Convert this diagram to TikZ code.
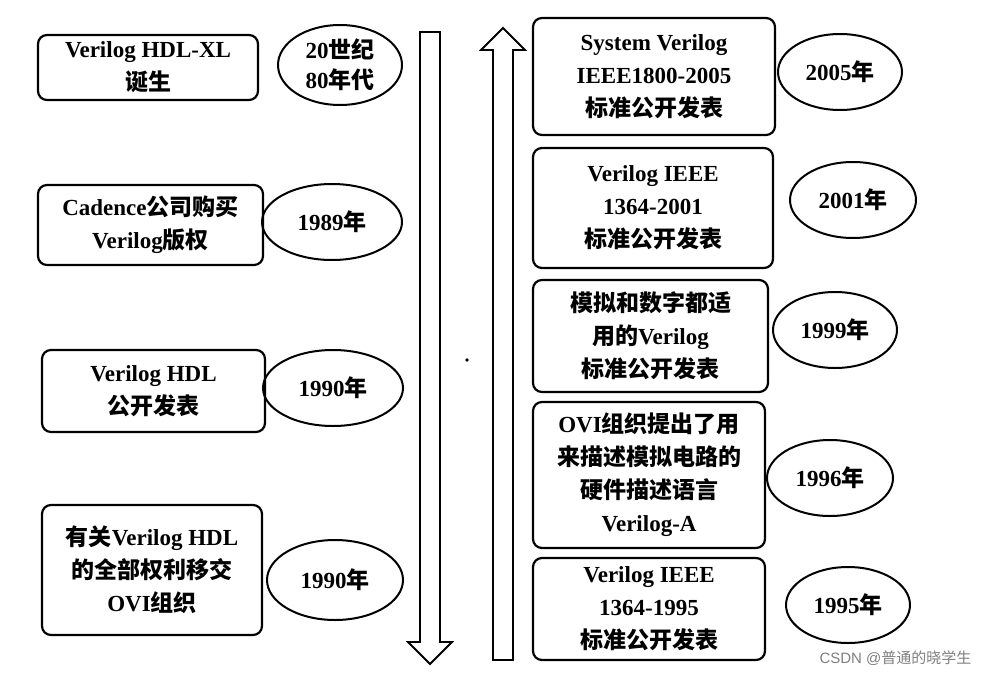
\documentclass[tikz,border=0pt]{standalone}
\usepackage{fontspec}
\setmainfont{Liberation Serif}
\newfontfamily\cjk{Noto Sans CJK SC}
\newfontfamily\wmfont{Liberation Sans}
\newcommand{\zh}[1]{{\cjk #1}}
\begin{document}
\begin{tikzpicture}[x=1pt,y=-1pt,
  box/.style={align=center,font=\fontsize{23}{33}\selectfont\bfseries},
  yr/.style={align=center,font=\fontsize{23}{30}\selectfont\bfseries},
  arr/.style={draw,line width=1.8pt,fill=white,line join=miter}]
\useasboundingbox (0,0) rectangle (990,677);
\fill[white] (0,0) rectangle (990,677);
\def\bx#1#2#3#4#5#6{\draw[line width=2.2pt,rounded corners=9pt] (#2,#3) rectangle (#4,#5); \node[box] (#1) at ({(#2+#4)/2},{(#3+#5)/2}) {#6};}
\def\el#1#2#3#4#5#6{\draw[line width=2pt] (#2,#3) ellipse ({#4pt} and {#5pt}); \node[yr] (#1) at (#2,#3) {#6};}
% left
\bx{l1}{38}{35}{258}{100}{Verilog HDL-XL\\\zh{诞生}}
\el{e1}{340}{65}{62}{40}{20\zh{世纪}\\80\zh{年代}}
\bx{l2}{38}{185}{263}{265}{Cadence\zh{公司购买}\\Verilog\zh{版权}}
\el{e2}{332}{222}{70}{38}{1989\zh{年}}
\bx{l3}{42}{350}{265}{432}{Verilog HDL\\\zh{公开发表}}
\el{e3}{333}{388}{70}{38}{1990\zh{年}}
\bx{l4}{42}{505}{262}{635}{\zh{有关}Verilog HDL\\\zh{的全部权利移交}\\OVI\zh{组织}}
\el{e4}{335}{580}{68}{40}{1990\zh{年}}
% arrows
\draw[arr] (420,32) -- (440,32) -- (440,642) -- (452,642) -- (430,664) -- (408,642) -- (420,642) -- cycle;
\draw[arr] (493,660) -- (513,660) -- (513,50) -- (525,50) -- (503,28) -- (481,50) -- (493,50) -- cycle;
\fill (467,360) circle (1.8);
% right
\bx{r1}{533}{18}{775}{135}{System Verilog\\IEEE1800-2005\\\zh{标准公开发表}}
\el{f1}{840}{72}{62}{38}{2005\zh{年}}
\bx{r2}{533}{148}{773}{268}{Verilog IEEE\\1364-2001\\\zh{标准公开发表}}
\el{f2}{853}{200}{63}{38}{2001\zh{年}}
\bx{r3}{533}{280}{768}{392}{\zh{模拟和数字都适}\\\zh{用的}Verilog\\\zh{标准公开发表}}
\el{f3}{835}{330}{62}{38}{1999\zh{年}}
\bx{r4}{533}{402}{765}{548}{OVI\zh{组织提出了用}\\\zh{来描述模拟电路的}\\\zh{硬件描述语言}\\Verilog-A}
\el{f4}{830}{478}{63}{38}{1996\zh{年}}
\bx{r5}{533}{558}{765}{660}{Verilog IEEE\\1364-1995\\\zh{标准公开发表}}
\el{f5}{848}{605}{62}{38}{1995\zh{年}}
\node[text=gray,font=\wmfont\fontsize{15}{18}\selectfont,anchor=east] (wm) at (975,658) {CSDN @\zh{普通的晓学生}};
\end{tikzpicture}
\end{document}
